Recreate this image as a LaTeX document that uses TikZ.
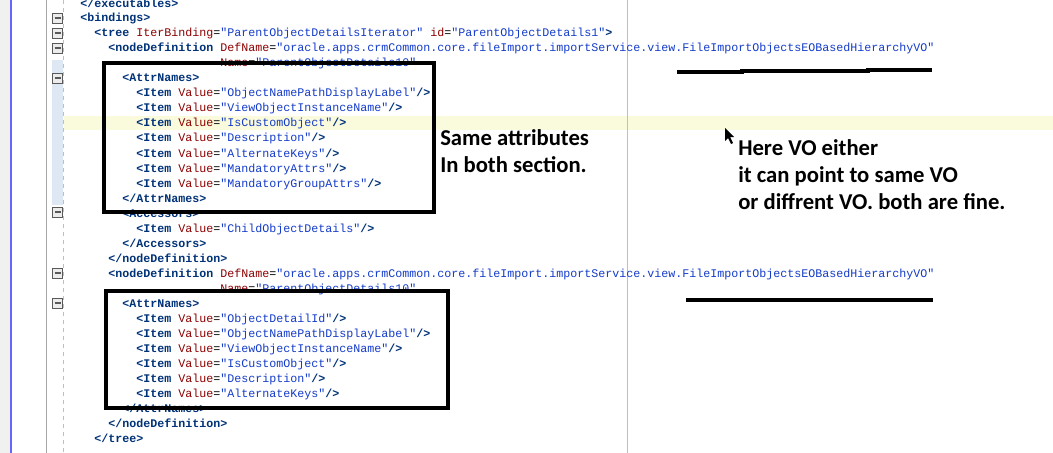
\documentclass[tikz,border=0pt]{standalone}
\usepackage{fontspec}
\setmonofont{Liberation Mono}
\newfontfamily\anno{Carlito}
\definecolor{tagc}{RGB}{0,50,120}
\definecolor{attc}{RGB}{140,0,0}
\definecolor{valc}{RGB}{20,60,200}
\definecolor{hil}{RGB}{250,250,220}
\definecolor{gut}{RGB}{222,232,245}
\newcommand{\tg}[1]{\textcolor{tagc}{\bfseries #1}}
\newcommand{\at}[1]{\textcolor{attc}{#1}}
\newcommand{\vl}[1]{\textcolor{valc}{#1}}
\begin{document}
\begin{tikzpicture}[x=0.75pt,y=-0.75pt,
  code/.style={anchor=base west,inner sep=0pt,font=\ttfamily\fontsize{8.75pt}{10pt}\selectfont},
  note/.style={anchor=north west,inner sep=0pt,align=left,font=\anno\bfseries\fontsize{17pt}{20.3pt}\selectfont},
  fold/.style={draw=gray!70!black,fill=gray!15,minimum size=7.5pt,inner sep=0pt,line width=0.6pt,
    path picture={\draw[line width=0.8pt] ([xshift=1.5pt]path picture bounding box.west) -- ([xshift=-1.5pt]path picture bounding box.east);}},
  penline/.style={line width=2.3pt}]
\useasboundingbox (0,0) rectangle (1053,453);
\fill[white] (0,0) rectangle (1053,453);
% left strip
\fill[gray!12] (0,0) rectangle (10,453);
\draw[blue!60,line width=1.5pt] (10.5,0) -- (10.5,453);
\draw[gray!70] (46.5,0) -- (46.5,453);
\fill[gut] (52,60) rectangle (63,205);
\draw[gray!50,dashed] (63.5,0) -- (63.5,453);
\fill[hil] (64,116) rectangle (1053,130);
\draw[gray!50] (627.5,0) -- (627.5,453);
% fold icons
\foreach \n/\yy in {a/18,b/33,c/48,d/78,e/212,f/273,g/303}{\node[fold] (f\n) at (57.5,\yy) {};}
% code
\node[code] (l0) at (80,8) {\tg{</executables>}};
\node[code] (l1) at (80,22) {\tg{<bindings>}};
\node[code] (l2) at (94,37) {\tg{<tree} \at{IterBinding}=\vl{"ParentObjectDetailsIterator"} \at{id}=\vl{"ParentObjectDetails1"}\tg{>}};
\node[code] (l3) at (108,52) {\tg{<nodeDefinition} \at{DefName}=\vl{"oracle.apps.crmCommon.core.fileImport.importService.view.FileImportObjectsEOBasedHierarchyVO"}};
\node[code] (l4) at (220,67) {\at{Name}=\vl{"ParentObjectDetails10"}};
\node[code] (l5) at (122,82) {\tg{<AttrNames>}};
\foreach \i/\v in {0/ObjectNamePathDisplayLabel,1/ViewObjectInstanceName,2/IsCustomObject,3/Description,4/AlternateKeys,5/MandatoryAttrs,6/MandatoryGroupAttrs}
  {\node[code] (a\i) at (136,97+15*\i) {\tg{<Item} \at{Value}=\vl{"\v"}\tg{/>}};}
\node[code] (l6) at (122,202) {\tg{</AttrNames>}};
\node[code] (l7) at (122,217) {\tg{<Accessors>}};
\node[code] (l8) at (136,232) {\tg{<Item} \at{Value}=\vl{"ChildObjectDetails"}\tg{/>}};
\node[code] (l9) at (122,247) {\tg{</Accessors>}};
\node[code] (l10) at (108,262) {\tg{</nodeDefinition>}};
\node[code] (l11) at (108,277) {\tg{<nodeDefinition} \at{DefName}=\vl{"oracle.apps.crmCommon.core.fileImport.importService.view.FileImportObjectsEOBasedHierarchyVO"}};
\node[code] (l12) at (220,292) {\at{Name}=\vl{"ParentObjectDetails10"}};
\node[code] (l13) at (122,307) {\tg{<AttrNames>}};
\foreach \i/\v in {0/ObjectDetailId,1/ObjectNamePathDisplayLabel,2/ViewObjectInstanceName,3/IsCustomObject,4/Description,5/AlternateKeys}
  {\node[code] (b\i) at (136,322+15*\i) {\tg{<Item} \at{Value}=\vl{"\v"}\tg{/>}};}
\node[code] (l14) at (122,412) {\tg{</AttrNames>}};
\node[code] (l15) at (108,427) {\tg{</nodeDefinition>}};
\node[code] (l16) at (94,442) {\tg{</tree>}};
% annotations
\draw[penline] (104,63) rectangle (434,212);
\draw[penline] (106,291) rectangle (448,408);
\draw[penline] (677,72) -- (742,72) -- (742,71) -- (868,71) -- (868,70) -- (932,70);
\draw[penline] (686,300) -- (933,300);
\node[note] (n1) at (440,129) {Same attributes\\In both section.};
\node[note] (n2) at (738,139) {Here VO either\\it can point to same VO\\or diffrent VO. both are fine.};
% cursor
\fill (725,128) -- (725,141) -- (728,138) -- (731,144) -- (733,143) -- (730,137) -- (734,137) -- cycle;
\end{tikzpicture}
\end{document}
